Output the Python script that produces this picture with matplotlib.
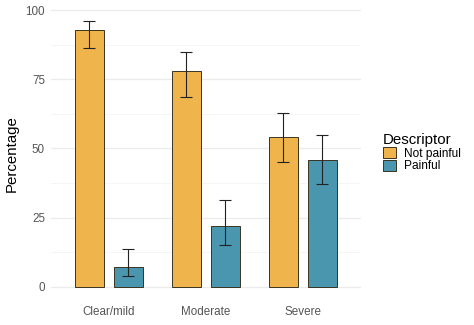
import numpy as np
import matplotlib
matplotlib.use("Agg")
import matplotlib.pyplot as plt
from matplotlib.patches import Patch

# data
severity = ["Clear/mild", "Moderate", "Severe"]
descriptors = ["Not painful", "Painful"]
not_painful = [92.7, 78.0, 54.2]
not_painful_lo = [86.3, 68.7, 45.1]
not_painful_hi = [96.0, 84.9, 62.8]
painful = [7.3, 22.0, 45.8]
painful_lo = [3.9, 15.0, 37.2]
painful_hi = [13.7, 31.3, 55.0]

colors = ["#F0B44C", "#4A96AE"]

plt.rcParams["font.family"] = ["Liberation Sans", "DejaVu Sans"]

fig = plt.figure(figsize=(4.74, 3.25), dpi=100)
ax = fig.add_axes([50.5 / 474, 25 / 325, (361 - 50.5) / 474, (300 - 7.8) / 325])

x = np.arange(1, len(severity) + 1)
offset = 0.2
width = 0.3
series = [(not_painful, not_painful_lo, not_painful_hi),
          (painful, painful_lo, painful_hi)]
for i, (vals, lo, hi) in enumerate(series):
    pos = x + (i - 0.5) * 2 * offset
    vals = np.array(vals)
    ax.bar(pos, vals, width=width, color=colors[i], edgecolor="#3a3320",
           linewidth=0.7, zorder=3)
    yerr = [vals - np.array(lo), np.array(hi) - vals]
    ax.errorbar(pos, vals, yerr=yerr, fmt="none", ecolor="#222222",
                elinewidth=0.8, capsize=4.5, capthick=0.8, zorder=4)

ax.set_xlim(0.4, 3.6)
ax.set_ylim(-4.8, 100.8)
ax.set_xticks(x)
ax.set_xticklabels(severity)
ax.set_yticks([0, 25, 50, 75, 100])
ax.set_yticks([12.5, 37.5, 62.5, 87.5], minor=True)
ax.grid(axis="y", which="major", color="#EBEBEB", linewidth=0.9, zorder=0)
ax.grid(axis="y", which="minor", color="#F4F4F4", linewidth=0.6, zorder=0)
for s in ax.spines.values():
    s.set_visible(False)
ax.tick_params(axis="both", which="both", length=0, labelsize=8.4,
               labelcolor="#555555")
ax.tick_params(axis="x", pad=4.5)
ax.tick_params(axis="y", pad=4)
ax.set_ylabel("Percentage", fontsize=10.8, labelpad=5)

handles = [Patch(facecolor=colors[i], edgecolor="#3a3320", linewidth=0.7,
                 label=descriptors[i]) for i in range(2)]
leg = fig.legend(handles=handles, title="Descriptor", loc="upper left",
                 bbox_to_anchor=(378 / 474, 1 - 128 / 325), frameon=False,
                 fontsize=8.6, title_fontsize=10.8, handlelength=1.1,
                 handleheight=1.1, handletextpad=0.7, labelspacing=0.0,
                 borderaxespad=0)
leg._legend_box.align = "left"

fig.savefig("out.png", dpi=100)
